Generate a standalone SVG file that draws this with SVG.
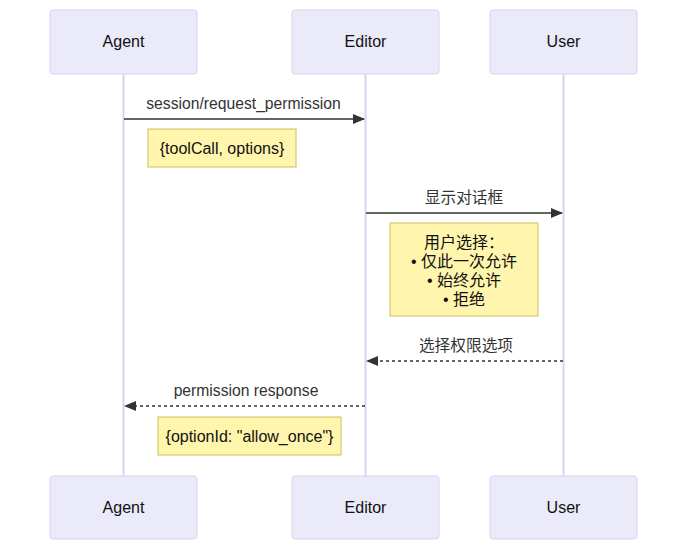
<svg xmlns="http://www.w3.org/2000/svg" width="695" height="557" viewBox="0 0 695 557">
<style>
.actor{fill:#eaeaf9;stroke:#d6d3f2;stroke-width:1}
.atext{font-family:"Liberation Sans","Noto Sans CJK SC",sans-serif;font-size:16px;fill:#111;text-anchor:middle}
.life{stroke:#d6d3f2;stroke-width:2}
.msg{stroke:#333;stroke-width:1.5;fill:none}
.dash{stroke-dasharray:3,3}
.mtext{font-family:"Liberation Sans","Noto Sans CJK SC",sans-serif;font-size:15.7px;fill:#333;text-anchor:middle}
.note{fill:#fff5ad;stroke:#c9c05a;stroke-width:1}
.ntext{font-family:"Liberation Sans","Noto Sans CJK SC",sans-serif;font-size:16px;fill:#111;text-anchor:middle}
</style>
<defs>
<marker id="ah" viewBox="0 0 12 10" refX="11" refY="5" markerWidth="12" markerHeight="10" markerUnits="userSpaceOnUse" orient="auto">
<path d="M0,0 L12,5 L0,10 z" fill="#333"/>
</marker>
</defs>
<g id="lifelines">
<line class="life" x1="123.5" y1="74" x2="123.5" y2="476"/>
<line class="life" x1="365.5" y1="74" x2="365.5" y2="476"/>
<line class="life" x1="563.5" y1="74" x2="563.5" y2="476"/>
</g>
<g id="agent-top"><rect class="actor" x="50" y="10" width="147" height="64" rx="3"/><text class="atext" x="123.5" y="47">Agent</text></g>
<g id="editor-top"><rect class="actor" x="292" y="10" width="147" height="64" rx="3"/><text class="atext" x="365.5" y="47">Editor</text></g>
<g id="user-top"><rect class="actor" x="490" y="10" width="147" height="64" rx="3"/><text class="atext" x="563.5" y="47">User</text></g>
<g id="agent-bottom"><rect class="actor" x="50" y="476" width="147" height="63" rx="3"/><text class="atext" x="123.5" y="513">Agent</text></g>
<g id="editor-bottom"><rect class="actor" x="292" y="476" width="147" height="63" rx="3"/><text class="atext" x="365.5" y="513">Editor</text></g>
<g id="user-bottom"><rect class="actor" x="490" y="476" width="147" height="63" rx="3"/><text class="atext" x="563.5" y="513">User</text></g>
<g id="connectors">
<line class="msg" x1="124" y1="119" x2="364" y2="119" marker-end="url(#ah)"/>
<text class="mtext" x="243.5" y="109">session/request_permission</text>
<line class="msg" x1="366" y1="213" x2="562" y2="213" marker-end="url(#ah)"/>
<text class="mtext" x="464" y="203">显示对话框</text>
<line class="msg dash" x1="563" y1="361" x2="367" y2="361" marker-end="url(#ah)"/>
<text class="mtext" x="466" y="351">选择权限选项</text>
<line class="msg dash" x1="365" y1="406" x2="125" y2="406" marker-end="url(#ah)"/>
<text class="mtext" x="246" y="396">permission response</text>
</g>
<g id="note1"><rect class="note" x="148" y="129" width="148" height="38"/><text class="ntext" x="222" y="154">{toolCall, options}</text></g>
<g id="note2"><rect class="note" x="390" y="223" width="148" height="93"/>
<text class="ntext" x="464" y="248">用户选择：</text>
<text class="ntext" x="464" y="267">• 仅此一次允许</text>
<text class="ntext" x="464" y="286">• 始终允许</text>
<text class="ntext" x="464" y="305">• 拒绝</text>
</g>
<g id="note3"><rect class="note" x="158" y="417" width="183" height="38"/><text class="ntext" x="249.5" y="442">{optionId: "allow_once"}</text></g>
</svg>
